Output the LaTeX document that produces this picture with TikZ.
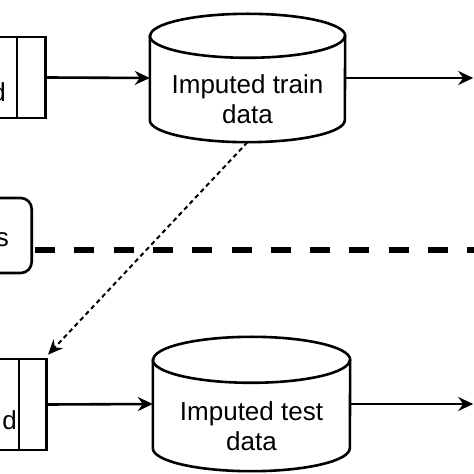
\documentclass[tikz,border=0pt]{standalone}
\usepackage{fontspec}
\setmainfont{Liberation Sans}
\usepackage{tikz}
\usetikzlibrary{positioning}
\usetikzlibrary{calc,arrows.meta}

\tikzset{
	outline/.style   = {line width=2.6pt, black},
	procbox/.style   = {draw, outline, rectangle, inner sep=0pt},
	splitbox/.style  = {draw, outline, rectangle, rounded corners=11pt, inner sep=0pt},
	store/.style     = {rectangle, inner sep=0pt},
	label/.style     = {font=\fontsize{26}{30}\selectfont, align=center, inner sep=0pt},
	flow/.style      = {outline, -{Stealth[length=15pt, width=14pt, inset=5pt]}},
	reuse/.style     = {line width=2pt, dash pattern=on 4.5pt off 3.5pt, -{Stealth[length=15pt, width=13pt, inset=5pt]}},
	border/.style    = {line width=5.5pt, dash pattern=on 20pt off 19.3pt},
}

\begin{document}
\begin{tikzpicture}[x=1pt, y=1pt]
	\useasboundingbox (0,0) rectangle (474,474);

	% ---------------------
	% Train row
	\node[procbox, minimum width=110pt, minimum height=81pt, anchor=east] (TrainFit) at (47,396.5) {};
	\draw[outline] ([xshift=-30pt]TrainFit.north east) -- ([xshift=-30pt]TrainFit.south east);
	\node[label, anchor=base east] (TrainFitText) at (6,372) {d};

	\node[store, minimum width=195pt, minimum height=84pt] (TrainData) at (247.5,396) {};
	\node[label] (TrainDataText) at ($(TrainData.center)+(0,-21.5pt)$) {Imputed train\\data};

	\path (TrainData.east) +(128pt,0) coordinate (TrainOut);

	% ---------------------
	% Split
	\node[splitbox, minimum width=110pt, minimum height=75pt, anchor=east] (Split) at (33,238.5) {};
	\node[label, anchor=base east] (SplitText) at (9,227) {s};

	\path (Split.east) +(2pt,-14.5pt) coordinate (SplitStart);
	\path (SplitStart) +(440pt,0) coordinate (SplitEnd);

	% ---------------------
	% Test row
	\node[procbox, minimum width=110pt, minimum height=91pt, anchor=east] (TestFit) at (48,69.5) {};
	\draw[outline] ([xshift=-29pt]TestFit.north east) -- ([xshift=-29pt]TestFit.south east);
	\node[label, anchor=base east] (TestFitText) at (17,44) {d};

	\node[store, minimum width=197pt, minimum height=88pt] (TestData) at (251.5,70) {};
	\node[label] (TestDataText) at ($(TestData.center)+(0,-22pt)$) {Imputed test\\data};

	\path (TestData.east) +(123pt,0) coordinate (TestOut);

	% ---------------------
	% Cylinders
	\draw[outline] (TrainData.north west) -- (TrainData.south west)
		arc[start angle=180, end angle=360, x radius=97.5pt, y radius=22pt]
		-- (TrainData.north east)
		arc[start angle=0, end angle=180, x radius=97.5pt, y radius=22pt] -- cycle;
	\draw[outline] (TrainData.north west) arc[start angle=180, end angle=360, x radius=97.5pt, y radius=22pt];

	\draw[outline] (TestData.north west) -- (TestData.south west)
		arc[start angle=180, end angle=360, x radius=98.5pt, y radius=23pt]
		-- (TestData.north east)
		arc[start angle=0, end angle=180, x radius=98.5pt, y radius=23pt] -- cycle;
	\draw[outline] (TestData.north west) arc[start angle=180, end angle=360, x radius=98.5pt, y radius=23pt];

	\path (TrainData.south) +(0,-22pt) coordinate (TrainBottom);

	% ------------------------------------------------
	% Connectors
	\draw[flow] (TrainFit.east) -- (TrainData.west);
	\draw[flow] (TrainData.east) -- (TrainOut);
	\draw[flow] (TestFit.east) -- (TestData.west);
	\draw[flow] (TestData.east) -- (TestOut);

	\draw[reuse] (TrainBottom) -- ([yshift=3pt]TestFit.north east);
	\draw[border] (SplitStart) -- (SplitEnd);

\end{tikzpicture}
\end{document}
